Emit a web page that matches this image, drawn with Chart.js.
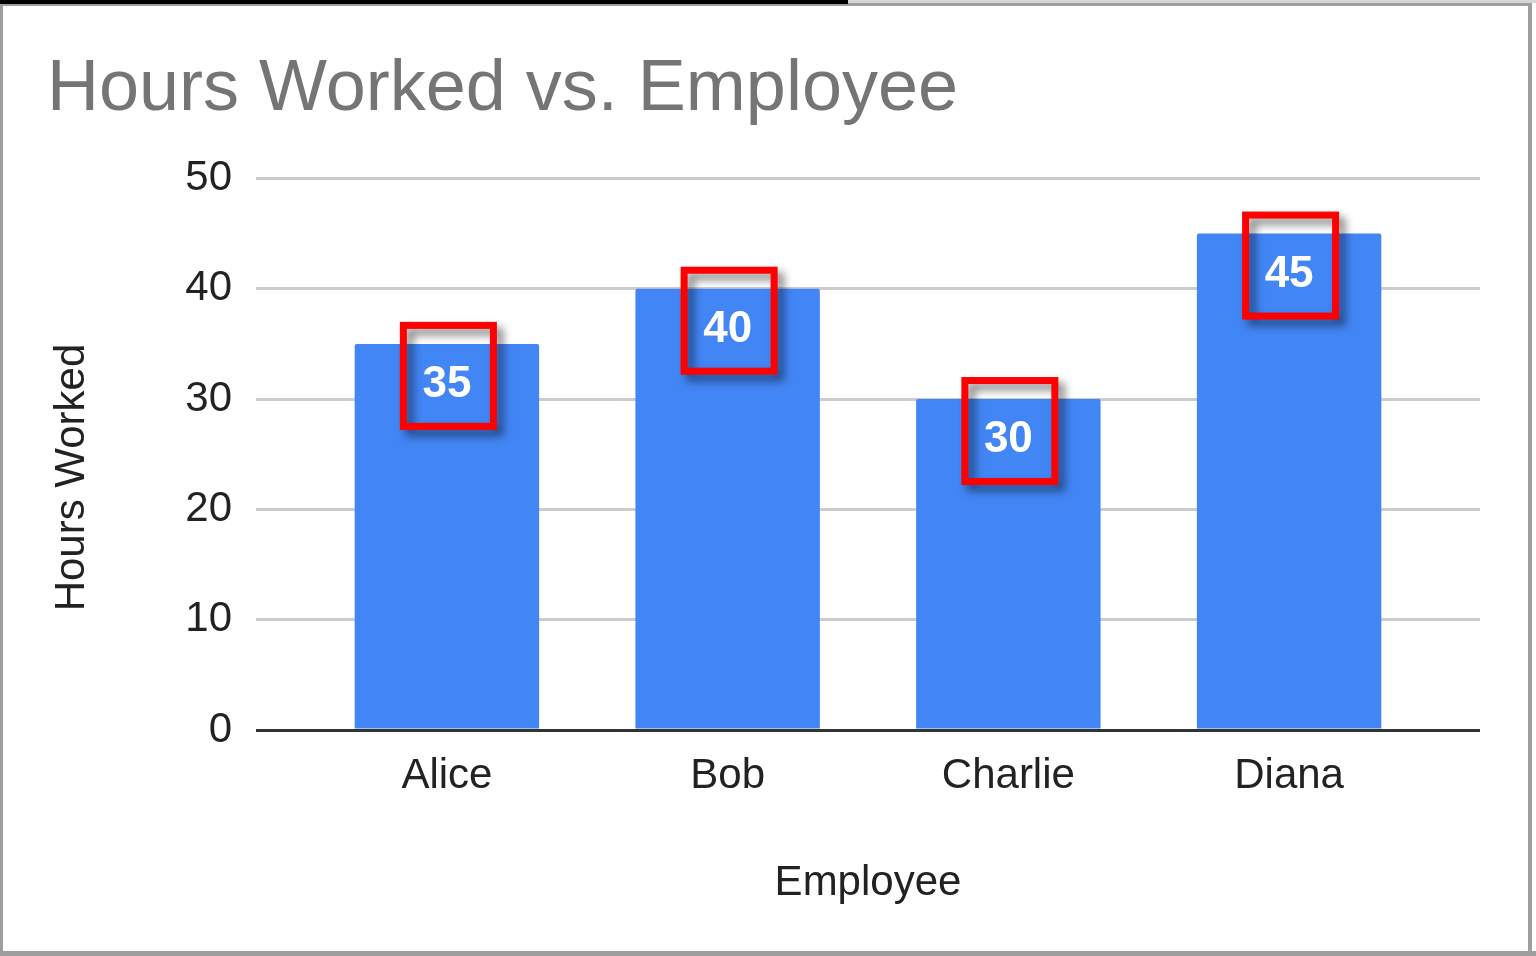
<!DOCTYPE html>
<html>
<head>
<meta charset="utf-8">
<title>Hours Worked vs. Employee</title>
<script src="https://cdn.jsdelivr.net/npm/chart.js@4.4.1/dist/chart.umd.min.js"></script>
<style>
  html, body { margin: 0; padding: 0; background: #fff; }
  canvas { display: block; }
</style>
</head>
<body>
<canvas id="hoursChart" width="1536" height="956"></canvas>
<script>
const employees = ["Alice", "Bob", "Charlie", "Diana"];
const hoursWorked = [35, 40, 30, 45];
const yTicks = [0, 10, 20, 30, 40, 50];

const FONT = "'Liberation Sans', Arial, sans-serif";

// red callout boxes round the value labels (hand-drawn look of the original)
const calloutBoxes = {
  id: "calloutBoxes",
  afterDatasetsDraw(chart) {
    const ctx = chart.ctx;
    const meta = chart.getDatasetMeta(0);
    meta.data.forEach((bar, i) => {
      const left = bar.x - 47, right = bar.x + 50;
      const top = bar.y - 22, bottom = bar.y + 86;
      ctx.save();
      ctx.shadowColor = "rgba(0, 0, 0, 0.5)";
      ctx.shadowBlur = 9;
      ctx.shadowOffsetX = 6;
      ctx.shadowOffsetY = 6;
      ctx.strokeStyle = "#ff0000";
      ctx.lineWidth = 7;
      ctx.strokeRect(left + 3.5, top + 3.5, right - left - 7, bottom - top - 7);
      ctx.restore();

      ctx.save();
      ctx.fillStyle = "#ffffff";
      ctx.font = "bold 44px " + FONT;
      ctx.textAlign = "center";
      ctx.textBaseline = "middle";
      ctx.fillText(String(hoursWorked[i]), bar.x, bar.y + 41);
      ctx.restore();
    });
  }
};

// screenshot frame
const frame = {
  id: "frame",
  afterDraw(chart) {
    const ctx = chart.ctx;
    ctx.save();
    ctx.fillStyle = "#9e9e9e";
    ctx.fillRect(0, 3, 3, 953);
    ctx.fillRect(1528, 3, 4, 953);
    ctx.fillRect(0, 951, 1536, 5);
    ctx.fillRect(0, 3, 1532, 3);
    ctx.fillStyle = "#000000";
    ctx.fillRect(0, 0, 848, 4);
    ctx.fillStyle = "#d6d6d6";
    ctx.fillRect(848, 0, 688, 3);
    ctx.restore();
  }
};

new Chart(document.getElementById("hoursChart"), {
  type: "bar",
  data: {
    datasets: [
      {
        label: "Hours Worked",
        data: employees.map((name, i) => ({ x: i, y: hoursWorked[i] })),
        backgroundColor: "#4285f4",
        borderWidth: 0,
        borderRadius: 2,
        categoryPercentage: 1,
        barPercentage: 0.657
      }
    ]
  },
  options: {
    responsive: false,
    animation: false,
    devicePixelRatio: 1,
    layout: {
      padding: { left: 47, right: 56, top: 0, bottom: 0 }
    },
    plugins: {
      legend: { display: false },
      tooltip: { enabled: false },
      title: {
        display: true,
        text: "Hours Worked vs. Employee",
        align: "start",
        color: "#757575",
        font: { family: FONT, size: 72, weight: "normal" },
        padding: { top: 47, bottom: 45 }
      }
    },
    scales: {
      x: {
        type: "linear",
        offset: false,
        min: -0.68,
        max: 3.68,
        grid: { display: false },
        border: { display: false },
        ticks: {
          stepSize: 1,
          includeBounds: false,
          autoSkip: false,
          maxRotation: 0,
          padding: 13,
          color: "#222222",
          font: { family: FONT, size: 42 },
          callback: (v) => (Number.isInteger(v) && employees[v]) ? employees[v] : ""
        },
        title: {
          display: true,
          text: "Employee",
          color: "#222222",
          font: { family: FONT, size: 42 },
          padding: { top: 0, bottom: 47 }
        },
        afterFit: (s) => { s.height = 226; }
      },
      y: {
        min: 0,
        max: 50,
        afterBuildTicks: (s) => { s.ticks = yTicks.map(v => ({ value: v })); },
        grid: {
          drawTicks: false,
          lineWidth: 3,
          color: (c) => c.tick && c.tick.value === 0 ? "#333333" : "#cccccc"
        },
        border: { display: false },
        ticks: {
          padding: 24,
          color: "#222222",
          font: { family: FONT, size: 42 }
        },
        title: {
          display: true,
          text: "Hours Worked    ",
          color: "#222222",
          font: { family: FONT, size: 42 },
          padding: { top: 0, bottom: 0 }
        },
        afterFit: (s) => { s.width = 209; }
      }
    }
  },
  plugins: [calloutBoxes, frame]
});
</script>
</body>
</html>
